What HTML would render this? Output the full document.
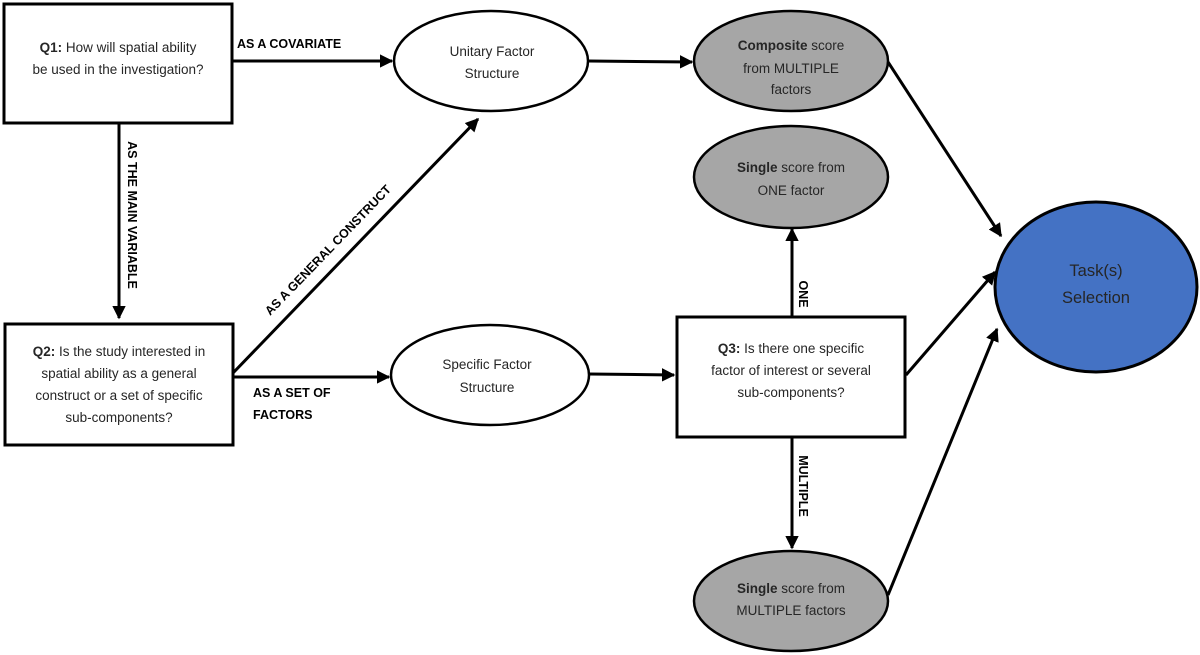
<!DOCTYPE html>
<html><head><meta charset="utf-8"><style>
html,body{margin:0;padding:0;background:#fff;}
svg{display:block;}
text{font-family:"Liberation Sans",sans-serif;fill:#262626;}
.t{font-size:13.5px;text-anchor:middle;}
.l{font-size:12.5px;font-weight:bold;fill:#000;}
</style></head><body>
<svg width="1200" height="655" viewBox="0 0 1200 655" xmlns="http://www.w3.org/2000/svg">
<defs><marker id="a" viewBox="0 0 10 10" refX="9" refY="5" markerWidth="4.5" markerHeight="4.5" orient="auto"><path d="M0,0L10,5L0,10z" fill="#000"/></marker></defs>
<g fill="none" stroke="#000" stroke-width="3">
<rect x="4" y="4" width="228" height="119" fill="#fff"/>
<rect x="5" y="324" width="228" height="121" fill="#fff"/>
<rect x="677" y="317" width="228" height="120" fill="#fff"/>
<ellipse cx="491" cy="61" rx="97" ry="50" fill="#fff" stroke-width="2.5"/>
<ellipse cx="490" cy="375" rx="99" ry="50" fill="#fff" stroke-width="2.5"/>
<ellipse cx="791" cy="61" rx="97" ry="50" fill="#a6a6a6" stroke-width="2.5"/>
<ellipse cx="791" cy="177" rx="97" ry="51" fill="#a6a6a6" stroke-width="2.5"/>
<ellipse cx="791" cy="601" rx="97" ry="50" fill="#a6a6a6" stroke-width="2.5"/>
<ellipse cx="1096" cy="287" rx="101" ry="85" fill="#4472c4"/>
</g>
<g stroke="#000" stroke-width="3" marker-end="url(#a)" fill="none">
<line x1="232" y1="61" x2="392" y2="61"/>
<line x1="119" y1="123" x2="119" y2="318"/>
<line x1="233" y1="373" x2="478" y2="119"/>
<line x1="233" y1="377" x2="389" y2="377"/>
<line x1="589" y1="61" x2="692" y2="62"/>
<line x1="589" y1="374" x2="674" y2="375"/>
<line x1="792" y1="317" x2="792" y2="229"/>
<line x1="792" y1="437" x2="792" y2="548"/>
<line x1="888" y1="62" x2="1001" y2="236"/>
<line x1="906" y1="375" x2="995" y2="272"/>
<line x1="888" y1="595" x2="997" y2="329"/>
</g>
<text class="t" x="118" y="52"><tspan font-weight="bold">Q1:</tspan> How will spatial ability</text>
<text class="t" x="118" y="74">be used in the investigation?</text>
<text class="t" x="119" y="356"><tspan font-weight="bold">Q2:</tspan> Is the study interested in</text>
<text class="t" x="119" y="378">spatial ability as a general</text>
<text class="t" x="119" y="400">construct or a set of specific</text>
<text class="t" x="119" y="422">sub-components?</text>
<text class="t" x="492" y="56">Unitary Factor</text>
<text class="t" x="492" y="78">Structure</text>
<text class="t" x="487" y="369">Specific Factor</text>
<text class="t" x="487" y="392">Structure</text>
<text class="t" x="791" y="50"><tspan font-weight="bold">Composite</tspan> score</text>
<text class="t" x="791" y="73">from MULTIPLE</text>
<text class="t" x="791" y="94">factors</text>
<text class="t" x="791" y="172"><tspan font-weight="bold">Single</tspan> score from</text>
<text class="t" x="791" y="195">ONE factor</text>
<text class="t" x="791" y="593"><tspan font-weight="bold">Single</tspan> score from</text>
<text class="t" x="791" y="615">MULTIPLE factors</text>
<text class="t" x="791" y="353"><tspan font-weight="bold">Q3:</tspan> Is there one specific</text>
<text class="t" x="791" y="375">factor of interest or several</text>
<text class="t" x="791" y="397">sub-components?</text>
<text class="t" x="1096" y="276" style="font-size:16.5px">Task(s)</text>
<text class="t" x="1096" y="303" style="font-size:16.5px">Selection</text>
<text class="l" x="237" y="48">AS A COVARIATE</text>
<text class="l" x="253" y="397">AS A SET OF</text>
<text class="l" x="253" y="419">FACTORS</text>
<text class="l" text-anchor="middle" transform="translate(128,215) rotate(90)">AS THE MAIN VARIABLE</text>
<text class="l" text-anchor="middle" transform="translate(331,253) rotate(-46)">AS A GENERAL CONSTRUCT</text>
<text class="l" text-anchor="middle" transform="translate(799,294) rotate(90)">ONE</text>
<text class="l" text-anchor="middle" transform="translate(799,486) rotate(90)">MULTIPLE</text>
</svg>
</body></html>
